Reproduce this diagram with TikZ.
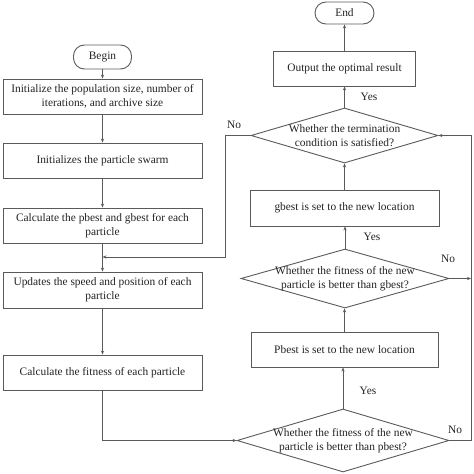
\documentclass[tikz,border=0pt]{standalone}
\usepackage{fontspec}
\setmainfont{Liberation Serif}
\usetikzlibrary{shapes.geometric,arrows.meta}
\definecolor{ln}{HTML}{5A5A5A}
\definecolor{tx}{HTML}{222222}
\tikzset{
  txtfont/.style={font=\fontsize{11.4}{14}\selectfont},
  procbox/.style={draw=ln, line width=0.9pt, rectangle, align=center, text=tx, inner sep=1pt, txtfont},
  termbox/.style={draw=ln, line width=0.9pt, rectangle, rounded corners=11pt, align=center, text=tx, inner sep=1pt, txtfont},
  decbox/.style={draw=ln, line width=0.9pt, diamond, aspect=3.4, inner sep=-4pt, align=center, text=tx, txtfont},
  conn/.style={draw=ln, line width=0.9pt, -{Stealth[length=4pt,width=3.2pt]}},
  lbl/.style={text=tx, txtfont, inner sep=0pt}
}
\begin{document}
\begin{tikzpicture}[x=1pt,y=-1pt]
\useasboundingbox (0,0) rectangle (474,474);
% left column
\node[termbox, minimum width=58pt, minimum height=24pt] (begin) at (102.5,57) {Begin};
\node[procbox, minimum width=199pt, minimum height=35pt] (b1) at (102.5,96.5) {Initialize the population size, number of\\iterations, and archive size};
\node[procbox, minimum width=199pt, minimum height=35pt] (b2) at (102.5,160.5) {Initializes the particle swarm};
\node[procbox, minimum width=199pt, minimum height=35pt] (b3) at (102.5,225.5) {Calculate the pbest and gbest for each\\particle};
\node[procbox, minimum width=199pt, minimum height=36pt] (b4) at (102.5,290) {Updates the speed and position of each\\particle};
\node[procbox, minimum width=199pt, minimum height=35pt] (b5) at (102.5,372.5) {Calculate the fitness of each particle};
% right column
\node[termbox, minimum width=59pt, minimum height=22pt] (end) at (344.5,13) {End};
\node[procbox, minimum width=142pt, minimum height=35pt] (ob) at (344.5,68.5) {Output the optimal result};
\node[decbox, minimum width=187pt, minimum height=55pt] (td) at (344.5,135.5) {Whether the termination\\condition is satisfied?};
\node[procbox, minimum width=189pt, minimum height=36pt] (gb) at (344.5,208) {gbest is set to the new location};
\node[decbox, minimum width=208pt, minimum height=59pt] (gd) at (345,278.5) {Whether the fitness of the new\\particle is better than gbest?};
\node[procbox, minimum width=187pt, minimum height=35pt] (pb) at (344.5,349.5) {Pbest is set to the new location};
\node[decbox, minimum width=212pt, minimum height=63pt] (pd) at (343,440.5) {Whether the fitness of the new\\particle is better than pbest?};
% helper coordinates
\coordinate (j1) at (102.5,257);
\coordinate (lx) at (225,0);
\coordinate (rx) at (471,0);
% connectors left
\draw[conn] (begin) -- (b1);
\draw[conn] (b1) -- (b2);
\draw[conn] (b2) -- (b3);
\draw[conn] (b3) -- (b4);
\draw[conn] (b4) -- (b5);
\draw[conn] (td.west) -- (td.west -| lx) -- (j1 -| lx) -- (j1);
\draw[conn] (b5.south) |- (pd.west);
% connectors right
\draw[conn] (pd.north) -- (pd.north |- pb.south);
\draw[conn] (pb.north) -- (pb.north |- gd.south);
\draw[conn] (gd.north) -- (gd.north |- gb.south);
\draw[conn] (gb.north) -- (gb.north |- td.south);
\draw[conn] (td.north) -- (td.north |- ob.south);
\draw[conn] (ob.north) -- (ob.north |- end.south);
\draw[conn] (gd.east) -- (gd.east -| rx);
\draw[conn] (pd.east) -- (pd.east -| rx) -- (td.east -| rx) -- (td.east);
% labels
\node[lbl] (l1) at (234,125) {No};
\node[lbl] (l2) at (369,97) {Yes};
\node[lbl] (l3) at (372,237) {Yes};
\node[lbl] (l4) at (448,259) {No};
\node[lbl] (l5) at (368,391) {Yes};
\node[lbl] (l6) at (455,430) {No};
\end{tikzpicture}
\end{document}
